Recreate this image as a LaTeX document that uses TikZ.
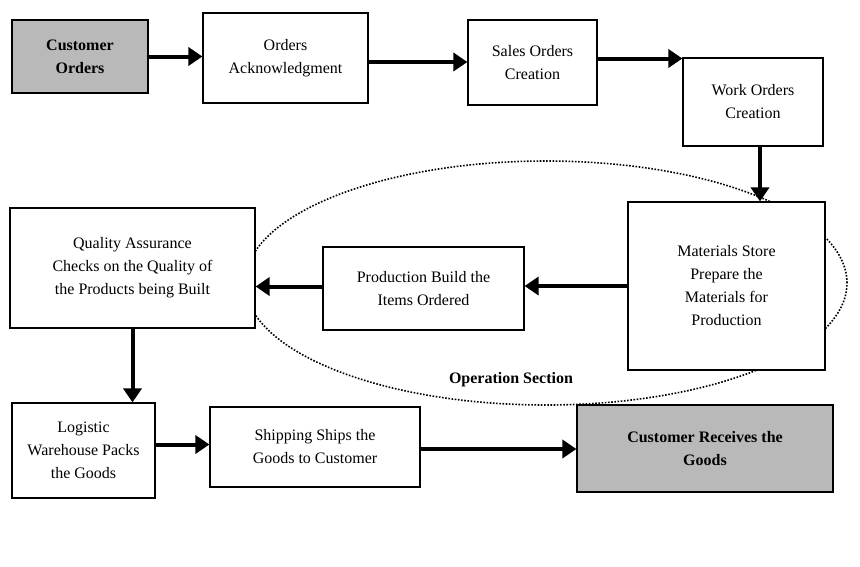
\documentclass[tikz,border=0pt]{standalone}
\usepackage{fontspec}
\setmainfont{Liberation Serif}
\usetikzlibrary{arrows.meta,shapes.geometric}
\begin{document}
\begin{tikzpicture}[x=1pt,y=-1pt,
  box/.style={draw,line width=1.2pt,fill=white,align=center,font=\fontsize{16}{23}\selectfont,inner sep=0pt},
  gbox/.style={box,fill=gray!55,font=\fontsize{16}{23}\selectfont\bfseries},
  arr/.style={draw,line width=4pt,-{Triangle[length=14pt,width=18pt]}}]
\useasboundingbox (0,0) rectangle (860,566);
\node[draw,line width=1.6pt,dash pattern=on 1.6pt off 1.6pt,ellipse,minimum width=602,minimum height=244] (ell) at (546,283) {};
\node[gbox,minimum width=136,minimum height=73] (co) at (80,56.5) {Customer\\Orders};
\node[box,minimum width=165,minimum height=90] (oa) at (285.5,58) {Orders\\Acknowledgment};
\node[box,minimum width=129,minimum height=85] (so) at (532.5,62.5) {Sales Orders\\Creation};
\node[box,minimum width=140,minimum height=88] (wo) at (753,102) {Work Orders\\Creation};
\node[box,minimum width=197,minimum height=168] (ms) at (726.5,286) {Materials Store\\Prepare the\\Materials for\\Production};
\node[box,minimum width=201,minimum height=83] (pb) at (423.5,288.5) {Production Build the\\Items Ordered};
\node[box,minimum width=245,minimum height=120] (qa) at (132.5,268) {Quality Assurance\\Checks on the Quality of\\the Products being Built};
\node[box,minimum width=143,minimum height=95] (lw) at (83.5,450.5) {Logistic\\Warehouse Packs\\the Goods};
\node[box,minimum width=210,minimum height=80] (sh) at (315,447) {Shipping Ships the\\Goods to Customer};
\node[gbox,minimum width=256,minimum height=87] (cr) at (705,448.5) {Customer Receives the\\Goods};
\node[font=\fontsize{16}{18}\selectfont\bfseries] (op) at (511,380) {Operation Section};
\draw[arr] (co.east) -- (co.east -| oa.west);
\draw[arr] (oa.east) ++(0,4) coordinate (a1) (a1) -- (a1 -| so.west);
\draw[arr] (so.east) ++(0,-4) coordinate (a2) (a2) -- (a2 -| wo.west);
\draw[arr] (wo.south) ++(7,0) coordinate (a3) (a3) -- (a3 |- ms.north);
\draw[arr] (ms.west) -- (ms.west -| pb.east);
\draw[arr] (pb.west) ++(0,-2) coordinate (a4) (a4) -- (a4 -| qa.east);
\draw[arr] (qa.south) -- (qa.south |- lw.north);
\draw[arr] (lw.east) ++(0,-6) coordinate (a5) (a5) -- (a5 -| sh.west);
\draw[arr] (sh.east) ++(0,2) coordinate (a6) (a6) -- (a6 -| cr.west);
\end{tikzpicture}
\end{document}
